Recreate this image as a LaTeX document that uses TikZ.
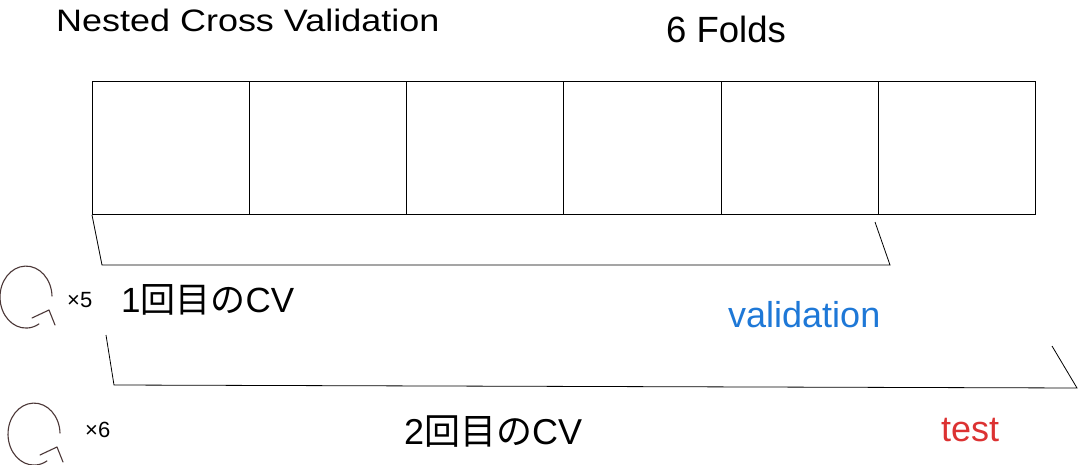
\documentclass[tikz,border=0pt]{standalone}
\usepackage{fontspec}
\setmainfont{Liberation Sans}
\newfontfamily\cjk{Noto Sans CJK JP}
\definecolor{valblue}{RGB}{30,120,215}
\definecolor{testred}{RGB}{220,50,50}
\definecolor{loopcol}{RGB}{75,55,55}
\begin{document}
\begin{tikzpicture}[x=1pt,y=-1pt,
  foldbox/.style={draw, line width=1pt, minimum width=157.33pt, minimum height=133pt, inner sep=0pt, outer sep=0pt, anchor=north west},
  bracket/.style={line width=0.8pt, line join=miter},
  lbl/.style={inner sep=0pt, anchor=base west},
  loopline/.style={draw=loopcol, line width=1.1pt, line cap=round, line join=round},
  looparrow/.pic={
    \draw[loopline] (52,296) arc[start angle=-2, end angle=-300, x radius=26, y radius=31];
    \draw[loopline] (32,318) -- (49,310) -- (55,325);
  }]
\useasboundingbox (0,0) rectangle (1079,465);
\fill[white] (0,0) rectangle (1079,465);
% folds
\foreach \i in {1,...,6} {
  \node[foldbox] (f\i) at ({92+157.33*(\i-1)},82) {};
}
% brackets
\coordinate (b1a) at (102,265);
\coordinate (b1b) at (890,265);
\coordinate (b1c) at (875,222);
\draw[bracket] (f1.south west) -- (b1a) -- (b1b) -- (b1c);
\coordinate (b2s) at (106,335);
\coordinate (b2a) at (114,385);
\coordinate (b2b) at (1077,388);
\coordinate (b2c) at (1052,346);
\draw[bracket] (b2s) -- (b2a) -- (b2b) -- (b2c);
% loops
\pic at (0,0) {looparrow};
\pic at (8,137) {looparrow};
% labels
\node[lbl, font=\fontsize{31}{31}\selectfont] (title) at (56,32) {\scalebox{1.16}[1]{Nested Cross Validation}};
\node[lbl, font=\fontsize{36.5}{36.5}\selectfont] (folds) at (666,43) {6 Folds};
\node[lbl, font=\fontsize{35}{35}\selectfont] (cv1) at (121,312) {1{\cjk 回目の}CV};
\node[lbl, font=\fontsize{36}{36}\selectfont, text=valblue] (val) at (728,327) {validation};
\node[lbl, font=\fontsize{36}{36}\selectfont] (cv2) at (404,444) {2{\cjk 回目の}CV};
\node[lbl, font=\fontsize{36}{36}\selectfont, text=testred] (test) at (941,441) {test};
\node[lbl, font=\fontsize{22}{22}\selectfont] (x5) at (67,307) {×5};
\node[lbl, font=\fontsize{22}{22}\selectfont] (x6) at (85,437) {×6};
\end{tikzpicture}
\end{document}
